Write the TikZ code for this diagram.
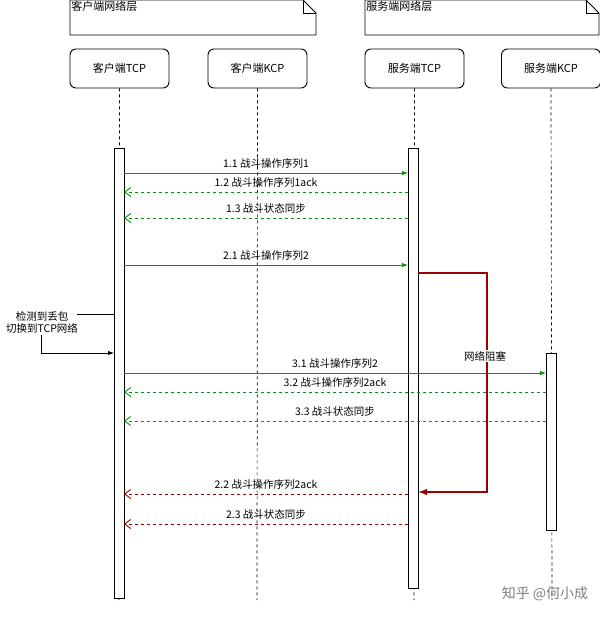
\documentclass[tikz,border=0pt]{standalone}
\usepackage{fontspec}
\setmainfont{Noto Sans CJK SC}
\usetikzlibrary{arrows.meta}
\definecolor{gr}{HTML}{009900}
\definecolor{dr}{HTML}{990000}
\begin{document}
\begin{tikzpicture}[x=1pt,y=-1pt,font=\fontsize{11}{13}\selectfont,line width=0.9pt,
 life/.style={draw,rounded corners=6pt,minimum width=99pt,minimum height=39pt,inner sep=0},
 act/.style={draw,fill=white,minimum width=10pt,inner sep=0},
 ll/.style={dashed,line width=0.7pt},
 msg/.style={gr,-{Latex[length=6pt]}},
 ret/.style={gr,dashed,-{Straight Barb[length=6pt,width=9pt]}},
 dret/.style={dr,dashed,-{Straight Barb[length=6pt,width=9pt]}},
 lab/.style={font=\fontsize{10.5}{12}\selectfont,above=1pt}]
\useasboundingbox (0,0) rectangle (600,619);
\fill[white] (0,0) rectangle (600,619);
% notes
\draw (70,0) -- (303,0) -- (316,13) -- (316,35) -- (70,35) -- cycle;
\draw (303,0) -- (303,13) -- (316,13);
\node[anchor=north west,inner sep=1pt] (n1) at (70,0) {客户端网络层};
\draw (365,0) -- (586,0) -- (599,13) -- (599,35) -- (365,35) -- cycle;
\draw (586,0) -- (586,13) -- (599,13);
\node[anchor=north west,inner sep=1pt] (n2) at (365,0) {服务端网络层};
% lifelines
\node[life] (ct) at (119.5,68.5) {客户端TCP};
\node[life] (ck) at (257.5,68.5) {客户端KCP};
\node[life] (st) at (414.5,68.5) {服务端TCP};
\node[life] (sk) at (551,68.5) {服务端KCP};
\coordinate (cte) at (119,600); \coordinate (cke) at (257,600);
\coordinate (ste) at (414,600); \coordinate (ske) at (552,600);
\draw[ll] (ct.south) -- (cte); \draw[ll] (ck.south) -- (cke);
\draw[ll] (st.south) -- (ste); \draw[ll] (sk.south) -- (ske);
% activations
\node[act,minimum height=450pt] (a1) at (119,373) {};
\node[act,minimum height=440pt] (a2) at (413,368) {};
\node[act,minimum height=177pt] (a3) at (551,441.5) {};
% coordinates
\coordinate (c1) at (124,173); \coordinate (s1) at (408,173);
\coordinate (c2) at (124,192); \coordinate (s2) at (408,192);
\coordinate (c3) at (124,218); \coordinate (s3) at (408,218);
\coordinate (c4) at (124,265); \coordinate (s4) at (408,265);
\coordinate (c5) at (124,373); \coordinate (k5) at (546,373);
\coordinate (c6) at (124,392); \coordinate (k6) at (546,392);
\coordinate (c7) at (124,421); \coordinate (k7) at (546,421);
\coordinate (c8) at (124,494); \coordinate (s8) at (408,494);
\coordinate (c9) at (124,524); \coordinate (s9) at (408,524);
\draw[msg] (c1) -- node[lab,black]{1.1 战斗操作序列1} (s1);
\draw[ret] (s2) -- node[lab,black]{1.2 战斗操作序列1ack} (c2);
\draw[ret] (s3) -- node[lab,black]{1.3 战斗状态同步} (c3);
\draw[msg] (c4) -- node[lab,black]{2.1 战斗操作序列2} (s4);
\draw[msg] (c5) -- node[lab,black]{3.1 战斗操作序列2} (k5);
\draw[ret] (k6) -- node[lab,black]{3.2 战斗操作序列2ack} (c6);
\draw[ret] (k7) -- node[lab,black]{3.3 战斗状态同步} (c7);
\draw[dret] (s8) -- node[lab,black]{2.2 战斗操作序列2ack} (c8);
\draw[dret] (s9) -- node[lab,black]{2.3 战斗状态同步} (c9);
% blocking loop
\coordinate (r1) at (418,273); \coordinate (r2) at (418,492);
\draw[dr,line width=2pt,-{Latex[length=9pt]}] (r1) -- (487,273) -- (487,492) -- (r2);
\node[fill=white,inner sep=1pt,font=\fontsize{10.5}{12}\selectfont] (blk) at (485,356) {网络阻塞};
% self note
\node[align=center,inner sep=1pt,font=\fontsize{10.5}{12}\selectfont] (det) at (42,322) {检测到丢包\\切换到TCP网络};
\coordinate (d1) at (114,314); \coordinate (d2) at (114,353);
\draw (77,314) -- (d1);
\draw[-{Latex[length=6pt]}] (41,335) -- (41,353) -- (d2);
\node[gray,font=\fontsize{14}{16}\selectfont] (wm) at (545,594) {知乎 @何小成};
\end{tikzpicture}
\end{document}
